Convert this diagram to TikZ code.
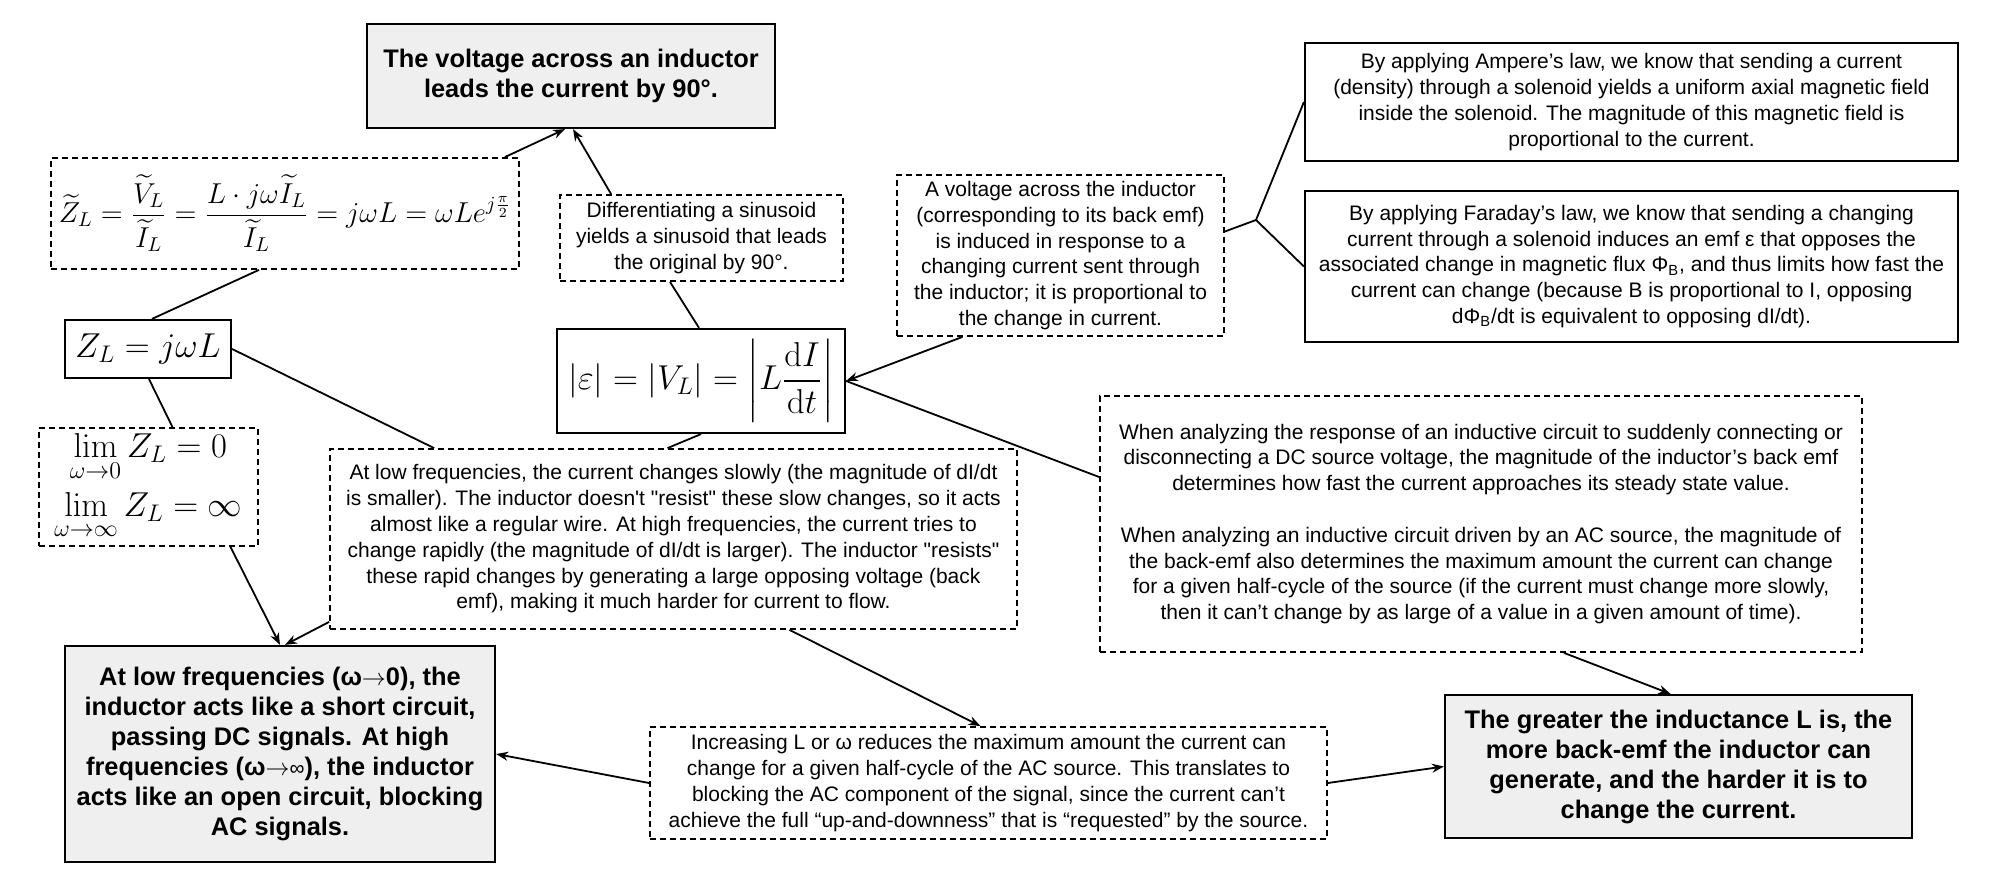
\documentclass[tikz,border=0pt]{standalone}
\usepackage{amsmath}
\usepackage[no-math]{fontspec}
\setmainfont{Liberation Sans}
\usepackage{xcolor}
\usepackage{tikz}
\usetikzlibrary{shapes,calc,arrows.meta}
\definecolor{keygray}{HTML}{EFEFEF}
\tikzset{sbox/.style={draw,line width=1.1pt,align=center,inner sep=2pt,font=\fontsize{10.5}{12.9}\selectfont}}
\tikzset{dbox/.style={sbox,line width=0.9pt,dash pattern=on 3pt off 2pt}}
\tikzset{gbox/.style={sbox,fill=keygray,font=\bfseries\fontsize{12.7}{15}\selectfont}}
\tikzset{mth/.style={font=\fontsize{17}{20}\selectfont}}
\newcommand{\sarr}{{\normalfont\fontsize{12}{12}\selectfont$\rightarrow$}}

\begin{document}
\begin{tikzpicture}[x=1pt,y=-1pt,>={Stealth[length=6pt,width=4.5pt]},line width=0.9pt]
        \useasboundingbox (0,0) rectangle (1000,443.5);
        \node[gbox,minimum width=204pt,minimum height=52pt] (a) at (285.5,38) {The voltage across an inductor\\ leads the current by 90°.};
        \node[dbox,font=\fontsize{14.2}{17}\selectfont,minimum width=234pt,minimum height=55.5pt] (b) at (142.5,106.75) {$\displaystyle \widetilde{Z}_L=\frac{\widetilde{V}_L}{\widetilde{I}_L}=\frac{L\cdot j\omega\widetilde{I}_L}{\widetilde{I}_L}=j\omega L=\omega L e^{j\frac{\pi}{2}}$};
        \node[dbox,minimum width=141.5pt,minimum height=43pt] (c) at (350.75,119) {Differentiating a sinusoid\\ yields a sinusoid that leads\\ the original by 90°.};
        \node[dbox,minimum width=163.5pt,minimum height=80.5pt] (d) at (530.25,127.75) {A voltage across the inductor\\ (corresponding to its back emf)\\ is induced in response to a\\ changing current sent through\\ the inductor; it is proportional to\\ the change in current.};
        \node[sbox,minimum width=326.5pt,minimum height=59pt] (e) at (815.75,51) {By applying Ampere’s law, we know that sending a current\\ (density) through a solenoid yields a uniform axial magnetic field\\ inside the solenoid. The magnitude of this magnetic field is\\ proportional to the current.};
        \node[sbox,minimum width=326.5pt,minimum height=75.5pt] (f) at (815.75,133.25) {By applying Faraday’s law, we know that sending a changing\\ current through a solenoid induces an emf ε that opposes the\\ associated change in magnetic flux Φ\textsubscript{B}, and thus limits how fast the\\ current can change (because B is proportional to I, opposing\\ dΦ\textsubscript{B}/dt is equivalent to opposing dI/dt).};
        \node[sbox,mth,minimum width=83pt,minimum height=29pt] (g) at (74,174.5) {$Z_L=j\omega L$};
        \node[sbox,mth,minimum width=144pt,minimum height=52pt] (h) at (350.5,190.5) {$\displaystyle |\varepsilon|=|V_L|=\left|L\frac{\mathrm{d}I}{\mathrm{d}t}\right|$};
        \node[dbox,mth,minimum width=109.5pt,minimum height=59pt,inner sep=0pt] (i) at (74.25,243.5) {$\displaystyle\lim_{\omega\to 0}Z_L=0$\\[4pt] $\displaystyle\lim_{\omega\to\infty}Z_L=\infty$};
        \node[dbox,minimum width=343.5pt,minimum height=90pt] (j) at (336.75,269.5) {At low frequencies, the current changes slowly (the magnitude of dI/dt\\ is smaller). The inductor doesn\textquotesingle t \textquotedbl resist\textquotedbl{} these slow changes, so it acts\\ almost like a regular wire. At high frequencies, the current tries to\\ change rapidly (the magnitude of dI/dt is larger). The inductor \textquotedbl resists\textquotedbl\\ these rapid changes by generating a large opposing voltage (back\\ emf), making it much harder for current to flow.};
        \node[dbox,minimum width=381pt,minimum height=128pt] (k) at (740.5,262) {When analyzing the response of an inductive circuit to suddenly connecting or\\ disconnecting a DC source voltage, the magnitude of the inductor’s back emf\\ determines how fast the current approaches its steady state value.\\[12.9pt] When analyzing an inductive circuit driven by an AC source, the magnitude of\\ the back-emf also determines the maximum amount the current can change\\ for a given half-cycle of the source (if the current must change more slowly,\\ then it can’t change by as large of a value in a given amount of time).};
        \node[gbox,minimum width=215pt,minimum height=108pt] (l) at (140,377) {At low frequencies (ω\sarr0), the\\ inductor acts like a short circuit,\\ passing DC signals. At high\\ frequencies (ω\sarr{\normalfont\fontsize{10.5}{10}\selectfont ∞}), the inductor\\ acts like an open circuit, blocking\\ AC signals.};
        \node[dbox,minimum width=338.5pt,minimum height=56pt] (m) at (494.25,391.5) {Increasing L or ω reduces the maximum amount the current can\\ change for a given half-cycle of the AC source. This translates to\\ blocking the AC component of the signal, since the current can’t\\ achieve the full “up-and-downness” that is “requested” by the source.};
        \node[gbox,minimum width=233.5pt,minimum height=71.5pt] (n) at (839.25,383.25) {The greater the inductance L is, the\\ more back-emf the inductor can\\ generate, and the harder it is to\\ change the current.};
        \coordinate (o) at (628,110);

        \draw [->] ($(b.north east)+(-7.5,0)$) to ($(a.south)+(-3,0)$);
        \draw [->] ($(c.north west)+(26,0)$) to ($(a.south)+(1,0)$);
        \draw [] ($(b.south)+(-13,0)$) to ($(g.north)+(2,0)$);
        \draw [] ($(g.south)+(0.5,0)$) to ($(i.north)+(12,0)$);
        \draw [] (g.east) to ($(j.north west)+(52.5,0)$);
        \draw [] ($(c.south)+(-15.75,0)$) to ($(h.north)+(-1,0)$);
        \draw [] (h.south) to ($(j.north)+(-3,0)$);
        \draw [->] ($(d.south)+(-49,0)$) to (h.east);
        \draw [] (h.east) to ($(k.west)+(0,-23.5)$);
        \draw [] ($(d.east)+(0,-12)$) to (o);
        \draw [] (o) to (e.west);
        \draw [] (o) to (f.west);
        \draw [->] ($(i.south)+(41,0)$) to (l.north);
        \draw [->] ($(j.south west)+(0,-4)$) to ($(l.north)+(2.5,0)$);
        \draw [->] ($(j.south)+(58,0)$) to ($(m.north)+(-4,0)$);
        \draw [->] (m.west) to (l.east);
        \draw [->] (m.east) to (n.west);
        \draw [->] ($(k.south)+(41.5,0)$) to ($(n.north)+(-4,0)$);
    \end{tikzpicture}
\end{document}
